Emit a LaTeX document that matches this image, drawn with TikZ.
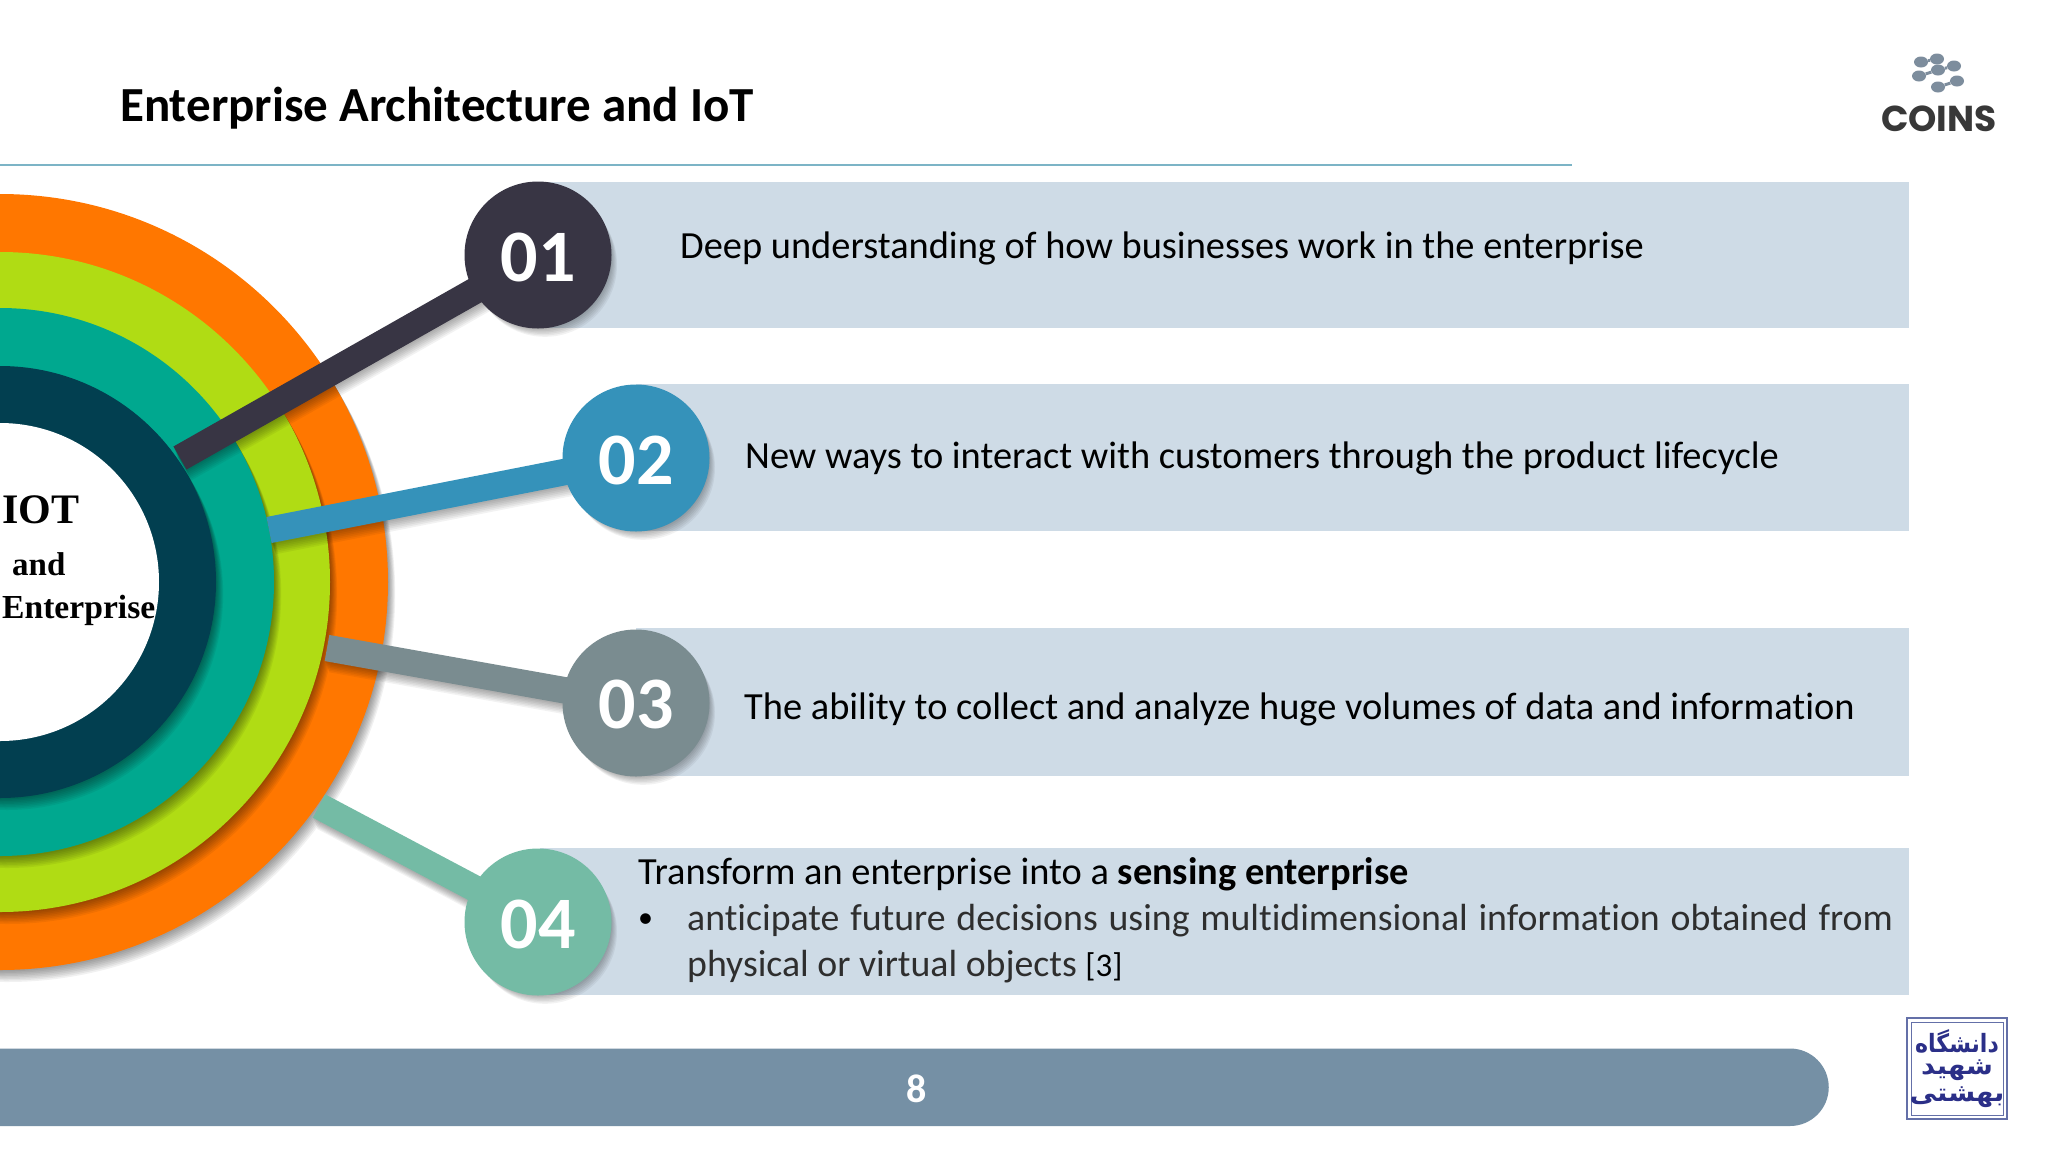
\documentclass[tikz,border=0pt]{standalone}
\usepackage{fontspec}
\setmainfont{Carlito}[Ligatures=NoCommon]
\newfontfamily\serifb{Liberation Serif}
\newfontfamily\logofont{Poppins}
\newfontfamily\persfont[Script=Arabic]{DejaVu Sans}
\TeXXeTstate=1
\usetikzlibrary{shapes.geometric}
\definecolor{orangeR}{HTML}{FF7700}
\definecolor{limeR}{HTML}{B0DC14}
\definecolor{tealR}{HTML}{00A88F}
\definecolor{navyR}{HTML}{023F50}
\definecolor{c1}{HTML}{383544}
\definecolor{c2}{HTML}{3592BA}
\definecolor{c3}{HTML}{7A8C90}
\definecolor{c4}{HTML}{74BBA5}
\definecolor{panelR}{HTML}{CEDBE6}
\definecolor{footR}{HTML}{7590A5}
\definecolor{lineR}{HTML}{7CB4C6}
\definecolor{dotR}{HTML}{7D8D9D}
\definecolor{uniR}{HTML}{2B2F88}
\definecolor{uniF}{HTML}{6470A8}
\tikzset{
  panelbox/.style={fill=panelR,draw=none},
  numdisc/.style={circle,minimum size=147pt,inner sep=0pt,text=white},
  numtext/.style={inner sep=0pt,text=white,font=\fontsize{74}{74}\selectfont\bfseries},
  bodytext/.style={anchor=base west,inner sep=0,font=\fontsize{38.4}{38.4}\selectfont,text=black},
  lighttext/.style={anchor=base west,inner sep=0,font=\fontsize{37.8}{37.8}\selectfont,text=black!82},
  hubtext/.style={anchor=base west,inner sep=0,text=black},
  barline/.style={line width=26.5pt},
  logodot/.style={ellipse,minimum width=14pt,minimum height=11pt,inner sep=0pt,fill=dotR},
  logolink/.style={dotR,line width=3pt},
  unitext/.style={inner sep=0,text=uniR,font=\fontsize{21}{21}\selectfont\persfont\bfseries},
}
\begin{document}
\begin{tikzpicture}[x=1pt,y=-1pt]
\useasboundingbox (0,0) rectangle (2048,1152);
\fill[white] (0,0) rectangle (2048,1152);
% header
\node[anchor=base west,inner sep=0,font=\fontsize{49}{49}\selectfont\bfseries] (title) at (120,121) {Enterprise Architecture and IoT};
\coordinate (ruleA) at (0,164.5);
\coordinate (ruleB) at (1572,164.5);
\draw[lineR,line width=2pt] (ruleA) -- (ruleB);
% panels
\fill[panelbox] (540,181.5) rectangle (1909,328);
\fill[panelbox] (636,384) rectangle (1909,531);
\fill[panelbox] (636,628) rectangle (1909,776);
\fill[panelbox] (540,848) rectangle (1909,995);
% rings
\begin{scope}
\clip (0,0) rectangle (2048,1152);
\foreach \r/\c in {388/orangeR,330/limeR,274/tealR,216/navyR}{
  \foreach \k in {8,...,1}{
    \fill[black,opacity=0.055] (\k*0.9,\k*1.5+582) circle[radius=\r];
  }
  \fill[\c] (0,582) circle[radius=\r];
}
\fill[white] (0,582) circle[radius=159];
\end{scope}
% anchors of bars
\coordinate (s1) at (180,458);
\coordinate (s2) at (269,530);
\coordinate (s3) at (327,648);
\coordinate (s4) at (319,806);
\coordinate (d1) at (538,255);
\coordinate (d2) at (636,458);
\coordinate (d3) at (636,703);
\coordinate (d4) at (538,922);
% bar shadows
\foreach \a/\b in {s1/d1,s2/d2,s3/d3,s4/d4}{
  \foreach \k in {7,...,1}{
    \draw[black,opacity=0.05,barline] ([xshift=0.6pt*\k,yshift=-1.6pt*\k]\a) -- ([xshift=0.6pt*\k,yshift=-1.6pt*\k]\b);
  }
}
\draw[c1,barline] (s1) -- (d1);
\draw[c2,barline] (s2) -- (d2);
\draw[c3,barline] (s3) -- (d3);
\draw[c4,barline] (s4) -- (d4);
% disc shadows
\foreach \p in {d1,d2,d3,d4}{
  \foreach \k in {7,...,1}{
    \fill[black,opacity=0.05] ([xshift=1.0pt*\k,yshift=-1.4pt*\k]\p) circle[radius=72];
  }
}
\node[numdisc,fill=c1] (n1) at (d1) {};
\node[numdisc,fill=c2] (n2) at (d2) {};
\node[numdisc,fill=c3] (n3) at (d3) {};
\node[numdisc,fill=c4] (n4) at (d4) {};
\node[numtext] (l1) at (538,257) {01};
\node[numtext] (l2) at (636,460) {02};
\node[numtext] (l3) at (636,704) {03};
\node[numtext] (l4) at (538,924) {04};
% hub text
\node[hubtext,font=\fontsize{42}{42}\selectfont\serifb\bfseries] (h1) at (2,523) {IOT};
\node[hubtext,font=\fontsize{33}{33}\selectfont\serifb\bfseries] (h2) at (12,575) {and};
\node[hubtext,font=\fontsize{33.6}{33.6}\selectfont\serifb\bfseries] (h3) at (2,618) {Enterprise};
% body
\node[bodytext] (t1) at (680,258) {Deep understanding of how businesses work in the enterprise};
\node[bodytext] (t2) at (745,468) {New ways to interact with customers through the product lifecycle};
\node[bodytext] (t3) at (744,719) {The ability to collect and analyze huge volumes of data and information};
\node[bodytext] (t4) at (638,884) {Transform an enterprise into a \textbf{sensing enterprise}};
\node[bodytext,font=\fontsize{30}{30}\selectfont] (b0) at (638,927) {•};
\node[lighttext] (t5) at (687,930) {\hbox to 1206pt{anticipate future decisions using multidimensional information obtained from}};
\node[lighttext] (t6) at (687,976) {physical or virtual objects \textcolor{black}{\fontsize{33}{33}\selectfont[3]}};
% footer
\fill[footR] (0,1048.5) -- (1790,1048.5) arc[start angle=-90,end angle=90,radius=38.75] -- (0,1126) -- cycle;
\node[font=\fontsize{40}{40}\selectfont\bfseries,text=white,inner sep=0] (pg) at (917,1089) {8};
% COINS logo
\node[anchor=base,inner sep=0,font=\fontsize{36}{36}\selectfont\logofont\bfseries,text=black!78] (coins) at (1939,131) {COINS};
\node[logodot] (a1) at (1921,62) {};
\node[logodot] (a2) at (1937,59) {};
\node[logodot] (b1) at (1919,76) {};
\node[logodot] (b2) at (1938,70) {};
\node[logodot] (b3) at (1954,66) {};
\node[logodot] (e1) at (1938,87) {};
\node[logodot] (e2) at (1957,81) {};
\draw[logolink] (a1) -- (a2);
\draw[logolink] (b1) -- (b2) -- (b3);
\draw[logolink] (e1) -- (e2);
% university logo
\draw[uniF,line width=2.5pt] (1907,1018) rectangle (2007,1119);
\draw[uniF,line width=1pt] (1911,1022) rectangle (2003,1115);
\node[unitext] (u1) at (1957,1041) {\scalebox{1.05}[1.2]{\beginR دانشگاه\endR}};
\node[unitext] (u2) at (1957,1070) {\scalebox{1.3}[1.2]{\beginR شهید\endR}};
\node[unitext] (u3) at (1957,1097) {\scalebox{1.3}[1.2]{\beginR بهشتی\endR}};
\end{tikzpicture}
\end{document}
